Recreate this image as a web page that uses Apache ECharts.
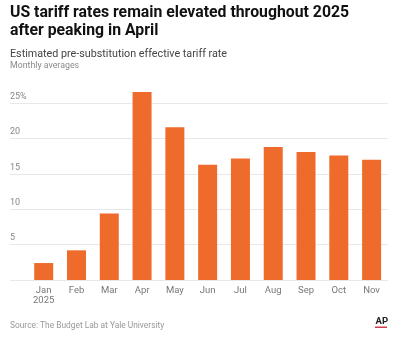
<!DOCTYPE html>
<html>
<head>
<meta charset="utf-8">
<script src="https://cdn.jsdelivr.net/npm/echarts@6/dist/echarts.min.js"></script>
<style>
  html, body { margin: 0; padding: 0; background: #fff; }
  #chart { width: 400px; height: 342px; }
</style>
</head>
<body>
<div id="chart"></div>
<script>
// Monthly average effective tariff rate, percent
const months = ['Jan\n2025', 'Feb', 'Mar', 'Apr', 'May', 'Jun', 'Jul', 'Aug', 'Sep', 'Oct', 'Nov'];
const tariffRate = [2.4, 4.2, 9.4, 26.6, 21.6, 16.3, 17.2, 18.8, 18.1, 17.6, 17.0];
const yTicks = [0, 5, 10, 15, 20, 25];

const FONT = 'Roboto, "Noto Sans", sans-serif';
const chart = echarts.init(document.getElementById('chart'), null, { renderer: 'canvas' });

const yMin = yTicks[0];
const yMax = yTicks[yTicks.length - 1];
const yStep = yTicks[1] - yTicks[0];

chart.setOption({
  animation: false,
  title: [
    {
      text: 'US tariff rates remain elevated throughout 2025\nafter peaking in April',
      left: 10, top: 4.5, padding: 0,
      textStyle: { fontFamily: FONT, fontSize: 15.8, fontWeight: 'bold', color: '#111', lineHeight: 17.5 }
    },
    {
      text: 'Estimated pre-substitution effective tariff rate',
      left: 10, top: 48.5, padding: 0,
      textStyle: { fontFamily: FONT, fontSize: 10.75, fontWeight: 'normal', color: '#444' }
    },
    {
      text: 'Monthly averages',
      left: 10, top: 61, padding: 0,
      textStyle: { fontFamily: FONT, fontSize: 8.8, fontWeight: 'normal', color: '#8a8a8a' }
    },
    {
      text: 'Source: The Budget Lab at Yale University',
      left: 10, top: 321.5, padding: 0,
      textStyle: { fontFamily: FONT, fontSize: 8.4, fontWeight: 'normal', color: '#999' }
    }
  ],
  grid: [
    // full-width grid carrying the gridlines and value labels
    { left: 10, right: 12, top: 103.3, bottom: 62 },
    // inset grid holding the bars
    { left: 27.3, right: 12, top: 103.3, bottom: 62 }
  ],
  xAxis: [
    { gridIndex: 0, type: 'category', data: months, show: false },
    {
      gridIndex: 1, type: 'category', data: months,
      axisLine: { show: false },
      axisTick: { show: false },
      axisLabel: { fontFamily: FONT, fontSize: 9.5, color: '#777', margin: 5, lineHeight: 10.5 }
    }
  ],
  yAxis: [
    {
      gridIndex: 0, type: 'value', min: yMin, max: yMax, interval: yStep,
      axisLine: { show: false }, axisTick: { show: false },
      splitLine: { lineStyle: { color: '#e8e8e8', width: 1 } },
      axisLabel: {
        inside: true, margin: 0, verticalAlign: 'bottom', padding: [0, 0, 2, 0],
        fontFamily: FONT, fontSize: 9, color: '#888',
        formatter: v => (v === yMax ? v + '%' : (v === 0 ? '' : String(v)))
      }
    },
    { gridIndex: 1, type: 'value', min: yMin, max: yMax, interval: yStep, show: false }
  ],
  series: [
    {
      type: 'bar',
      xAxisIndex: 1, yAxisIndex: 1,
      data: tariffRate,
      barWidth: 19,
      clip: false,
      itemStyle: { color: '#ef6b2c' }
    }
  ],
  graphic: [
    {
      type: 'text', left: 375.5, top: 316.5,
      style: { text: 'AP', font: 'bold 9.5px ' + FONT, fill: '#222' }
    },
    {
      type: 'rect', shape: { x: 375, y: 326.5, width: 12, height: 1.5 },
      style: { fill: '#d23b4a' }
    }
  ]
});
</script>
</body>
</html>
